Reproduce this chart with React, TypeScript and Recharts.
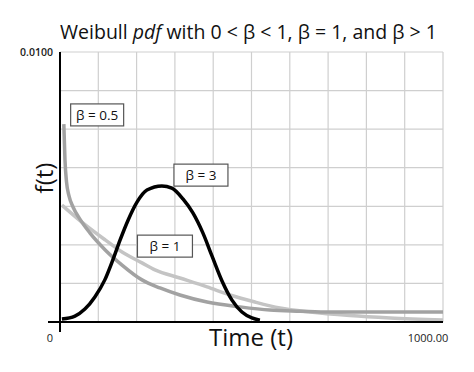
import React from "react";
import { ComposedChart, Line, XAxis, YAxis, CartesianGrid, ReferenceDot } from "recharts";

// beta = 0.5
const T_HALF = [10, 13, 17, 23.5, 34, 52, 78, 118, 162, 214, 261, 313, 384, 470, 548, 627, 705, 1000];
const F_HALF = [0.00733, 0.006, 0.00519, 0.00467, 0.00426, 0.00381, 0.0033, 0.00267, 0.00211, 0.00156, 0.00126, 0.001, 0.00074, 0.00056, 0.00044, 0.0004, 0.00037, 0.00037];

// beta = 1
const T_ONE = [5, 57, 118, 162, 214, 248, 313, 384, 444, 509, 574, 653, 757, 862, 1000];
const F_ONE = [0.00433, 0.0037, 0.00304, 0.00259, 0.00219, 0.00193, 0.00163, 0.0013, 0.001, 0.00074, 0.00052, 0.00037, 0.00024, 0.00015, 0.00007];

// beta = 3
const T_THREE = [5, 39, 65, 91, 117, 138, 157, 178, 201, 227, 266, 292, 321, 347, 373, 397, 423, 449, 475, 501, 522];
const F_THREE = [0.00011, 0.00022, 0.00048, 0.00093, 0.00156, 0.0023, 0.00304, 0.00378, 0.00444, 0.00489, 0.00504, 0.00496, 0.00456, 0.00404, 0.0033, 0.00244, 0.00152, 0.00081, 0.00037, 0.00015, 0.00007];

const X_TICKS = [0, 100, 200, 300, 400, 500, 600, 700, 800, 900, 1000];
const Y_TICKS = [0, 0.01 / 7, (2 * 0.01) / 7, (3 * 0.01) / 7, (4 * 0.01) / 7, (5 * 0.01) / 7, (6 * 0.01) / 7, 0.01];

const LABELS = [
  { text: "β = 0.5", t: 97, f: 0.00767, w: 53 },
  { text: "β = 3", t: 368, f: 0.00544, w: 54 },
  { text: "β = 1", t: 274, f: 0.00281, w: 55 },
];

const FONT = "'Open Sans', 'Noto Sans', sans-serif";

const toRows = (ts: number[], fs: number[]) => ts.map((t, i) => ({ t, f: fs[i] }));

const XTick = (props: any) => {
  const { x, payload } = props;
  if (payload.value === 0) {
    return (
      <g>
        <line x1={x} y1={321} x2={x} y2={332} stroke="#000" strokeWidth={2} />
        <text x={x - 10} y={342} textAnchor="middle" fontSize={11} fontFamily={FONT} fill="#222">0</text>
      </g>
    );
  }
  if (payload.value === 1000) {
    return (
      <text x={x - 15} y={342} textAnchor="middle" fontSize={11} fontFamily={FONT} fill="#222">1000.00</text>
    );
  }
  return null;
};

const YTick = (props: any) => {
  const { y, payload } = props;
  if (payload.value === 0) {
    return <line x1={48} y1={y} x2={61} y2={y} stroke="#000" strokeWidth={2} />;
  }
  if (payload.value === 0.01) {
    return (
      <text x={53} y={y + 4} textAnchor="end" fontSize={10.5} fontWeight={600} fontFamily={FONT} fill="#222">0.0100</text>
    );
  }
  return null;
};

const BoxLabel = (w: number, text: string) => (props: any) => {
  const { viewBox } = props;
  const cx = viewBox.x + (viewBox.width || 0) / 2;
  const cy = viewBox.y + (viewBox.height || 0) / 2;
  return (
    <g>
      <rect x={cx - w / 2} y={cy - 11} width={w} height={22} fill="#fff" stroke="#555" strokeWidth={1.2} />
      <text x={cx} y={cy + 5} textAnchor="middle" fontSize={13.5} fontFamily={FONT} fill="#111">{text}</text>
    </g>
  );
};

export default function App() {
  return (
    <div style={{ position: "absolute", left: 0, top: 0, width: 474, height: 372, background: "#fff", fontFamily: FONT }}>
      <div style={{ position: "absolute", left: 0, top: 18, width: 497, textAlign: "center", fontSize: 19.5, lineHeight: "normal", color: "#111", whiteSpace: "nowrap" }}>
        Weibull <i>pdf</i> with 0 &lt; β &lt; 1, β = 1, and β &gt; 1
      </div>
      <div style={{ position: "absolute", left: 43, top: 178, transform: "translate(-50%, -50%) rotate(-90deg)", fontSize: 24, color: "#111", whiteSpace: "nowrap" }}>
        f(t)
      </div>
      <div style={{ position: "absolute", left: 251, top: 336, transform: "translate(-50%, -50%)", fontSize: 24, color: "#111", whiteSpace: "nowrap" }}>
        Time (t)
      </div>
      <ComposedChart width={474} height={372} margin={{ top: 52, right: 31, bottom: 0, left: 0 }}>
        <CartesianGrid stroke="#cfcfcf" strokeWidth={1.2} horizontalValues={Y_TICKS} verticalValues={X_TICKS} />
        <XAxis
          type="number"
          dataKey="t"
          domain={[0, 1000]}
          ticks={X_TICKS}
          height={50}
          axisLine={{ stroke: "#000", strokeWidth: 2 }}
          tickLine={false}
          tick={<XTick />}
          interval={0}
          allowDataOverflow
        />
        <YAxis
          type="number"
          domain={[0, 0.01]}
          ticks={Y_TICKS}
          width={60}
          axisLine={{ stroke: "#000", strokeWidth: 2 }}
          tickLine={false}
          tick={<YTick />}
          interval={0}
          allowDataOverflow
        />
        <Line data={toRows(T_ONE, F_ONE)} dataKey="f" type="monotone" stroke="#c4c4c4" strokeWidth={3.5} dot={false} isAnimationActive={false} />
        <Line data={toRows(T_HALF, F_HALF)} dataKey="f" type="monotone" stroke="#a2a2a2" strokeWidth={3.5} dot={false} isAnimationActive={false} />
        <Line data={toRows(T_THREE, F_THREE)} dataKey="f" type="monotone" stroke="#000" strokeWidth={3.5} dot={false} isAnimationActive={false} />
        {LABELS.map((l) => (
          <ReferenceDot key={l.text} x={l.t} y={l.f} r={0} fill="none" stroke="none" label={BoxLabel(l.w, l.text)} />
        ))}
      </ComposedChart>
    </div>
  );
}
